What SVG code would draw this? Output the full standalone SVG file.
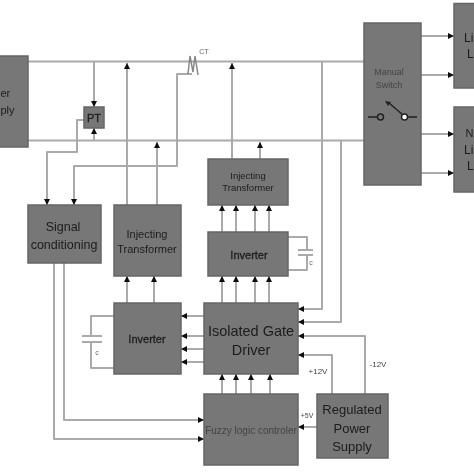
<svg xmlns="http://www.w3.org/2000/svg" width="474" height="474" viewBox="0 0 474 474">
<style>
.b{fill:#777;stroke:#666;stroke-width:1.5}
.l{fill:none;stroke:#aaa;stroke-width:2;stroke-linejoin:round}
.t{font-family:"Liberation Sans",Arial,sans-serif;fill:#1c1c1c;text-anchor:middle}
.s{font-family:"Liberation Sans",Arial,sans-serif;fill:#1c1c1c;text-anchor:start}
.h{stroke:#1c1c1c;stroke-width:0.300}
</style>
<defs>
<filter id="f" x="-5%" y="-5%" width="110%" height="110%"><feGaussianBlur stdDeviation="0.5"/></filter>
<marker id="a" markerUnits="userSpaceOnUse" markerWidth="7" markerHeight="7" refX="6" refY="3.5" orient="auto"><path d="M0 0.5L6 3.5L0 6.5z" fill="#111"/></marker>
</defs>
<rect width="474" height="474" fill="#fff"/>
<g filter="url(#f)">
<g id="connectors">
<path class="l" d="M28 61.500H364M28 140.500H364"/>
<path class="l" marker-end="url(#a)" d="M94 62V107"/>
<path class="l" marker-end="url(#a)" d="M94 140V128"/>
<path class="l" marker-end="url(#a)" d="M84 120H77V152H47V205"/>
<path class="l" marker-end="url(#a)" d="M192 74H177V166H74V205"/>
<path class="l" marker-end="url(#a)" d="M127 205V63"/>
<path class="l" marker-end="url(#a)" d="M157 205V142"/>
<path class="l" marker-end="url(#a)" d="M232 159V63"/>
<path class="l" marker-end="url(#a)" d="M260 159V142"/>
<path class="l" marker-end="url(#a)" d="M322 62V309H298"/>
<path class="l" marker-end="url(#a)" d="M341 141V322H298"/>
<path class="l" marker-end="url(#a)" d="M365 394V336H298"/>
<path class="l" marker-end="url(#a)" d="M332 394V355H298"/>
<path class="l" marker-end="url(#a)" d="M317 427H298"/>
<path class="l" marker-end="url(#a)" d="M222 232V205"/><path class="l" marker-end="url(#a)" d="M236 232V205"/><path class="l" marker-end="url(#a)" d="M255 232V205"/><path class="l" marker-end="url(#a)" d="M269 232V205"/>
<path class="l" marker-end="url(#a)" d="M222 303V276"/><path class="l" marker-end="url(#a)" d="M236 303V276"/><path class="l" marker-end="url(#a)" d="M255 303V276"/><path class="l" marker-end="url(#a)" d="M269 303V276"/>
<path class="l" marker-end="url(#a)" d="M222 394V374"/><path class="l" marker-end="url(#a)" d="M236 394V374"/><path class="l" marker-end="url(#a)" d="M251 394V374"/><path class="l" marker-end="url(#a)" d="M270 394V374"/>
<path class="l" marker-end="url(#a)" d="M127 303V276"/><path class="l" marker-end="url(#a)" d="M154 303V276"/>
<path class="l" marker-end="url(#a)" d="M204 316H181"/><path class="l" marker-end="url(#a)" d="M204 336H181"/><path class="l" marker-end="url(#a)" d="M204 349H181"/><path class="l" marker-end="url(#a)" d="M204 362H181"/>
<path class="l" marker-end="url(#a)" d="M54 263V439H204"/>
<path class="l" marker-end="url(#a)" d="M64 263V420H204"/>
<path class="l" marker-end="url(#a)" d="M421 36H454"/><path class="l" marker-end="url(#a)" d="M421 75H454"/><path class="l" marker-end="url(#a)" d="M421 134H454"/><path class="l" marker-end="url(#a)" d="M421 173H454"/>
<path class="l" d="M114 316H91V336M91 342V368H114"/>
<path class="l" d="M82 336H102M82 342H102"/>
<path class="l" d="M288 237H307V250M307 255V270H288"/>
<path class="l" d="M298 250H313M298 255H313"/>
<path d="M188 74L190 56L193 72L195 56L198 75" fill="none" stroke="#888" stroke-width="1.500"/>
</g>
<g id="supply"><rect class="b" x="-6" y="56" width="34" height="91"/><text class="s" x="0.500" y="97" font-size="11">er</text><text class="s" x="0.500" y="114" font-size="11">ply</text></g>
<g id="pt"><rect class="b" x="84" y="107" width="20" height="21"/><text class="t h" x="94" y="122" font-size="11">PT</text></g>
<g id="signal"><rect class="b" x="28" y="205" width="73" height="58"/><text class="t" x="63" y="231" font-size="12.500">Signal</text><text class="t" x="64" y="249" font-size="12.500">conditioning</text></g>
<g id="inj1"><rect class="b" x="114" y="205" width="67" height="71"/><text class="t" x="147" y="238" font-size="11">Injecting</text><text class="t" x="147" y="253" font-size="11">Transformer</text></g>
<g id="inj2"><rect class="b" x="208" y="159" width="80" height="46"/><text class="t" x="248" y="179" font-size="9.500" fill="#333">Injecting</text><text class="t" x="248" y="191" font-size="9.500" fill="#333">Transformer</text></g>
<g id="inv2"><rect class="b" x="208" y="232" width="80" height="44"/><text class="t h" x="249" y="259" font-size="11">Inverter</text></g>
<g id="inv1"><rect class="b" x="114" y="303" width="67" height="71"/><text class="t h" x="147" y="343" font-size="11">Inverter</text></g>
<g id="driver"><rect class="b" x="204" y="303" width="94" height="71"/><text class="t" x="251" y="336" font-size="14.500">Isolated Gate</text><text class="t" x="251" y="355" font-size="14.500">Driver</text></g>
<g id="fuzzy"><rect class="b" x="204" y="394" width="94" height="71"/><text class="t" x="251" y="434" font-size="10" style="fill:#444">Fuzzy logic controler</text></g>
<g id="regulated"><rect class="b" x="317" y="394" width="71" height="64"/><text class="t" x="352" y="414" font-size="13">Regulated</text><text class="t" x="352" y="433" font-size="13">Power</text><text class="t" x="352" y="451" font-size="13">Supply</text></g>
<g id="switch"><rect class="b" x="364" y="23" width="57" height="162"/><text class="t" x="389" y="75" font-size="9" style="fill:#444">Manual</text><text class="t" x="389" y="88" font-size="9" style="fill:#444">Switch</text>
<path d="M368 117H378M407 117H417" stroke="#222" stroke-width="1.500"/><path d="M403 115L389 103" stroke="#222" stroke-width="1.500"/><path d="M385 101L391 102L388 106z" fill="#222"/>
<circle cx="380.500" cy="117" r="3" fill="#777" stroke="#222" stroke-width="1.500"/><circle cx="404.500" cy="117" r="3" fill="#fff" stroke="#222" stroke-width="1.500"/></g>
<g id="load1"><rect class="b" x="454" y="3.500" width="30" height="84.500"/><text class="s" x="464" y="42" font-size="12">Li</text><text class="s" x="467" y="58" font-size="12">L</text></g>
<g id="load2"><rect class="b" x="454" y="107" width="30" height="85"/><text class="s" x="465.500" y="137" font-size="11">N</text><text class="s" x="464" y="154" font-size="12">Li</text><text class="s" x="467" y="170" font-size="12">L</text></g>
<g id="labels"><text class="t" x="204" y="54" font-size="7" style="fill:#666">CT</text><text class="t" x="97" y="355" font-size="7" style="fill:#666">c</text><text class="t" x="311" y="265" font-size="7" style="fill:#666">c</text><text class="t" x="318" y="374" font-size="8" style="fill:#444">+12V</text><text class="t" x="378" y="367" font-size="8" style="fill:#444">-12V</text><text class="t" x="307" y="418" font-size="7" style="fill:#444">+5V</text></g>
</g>
</svg>
